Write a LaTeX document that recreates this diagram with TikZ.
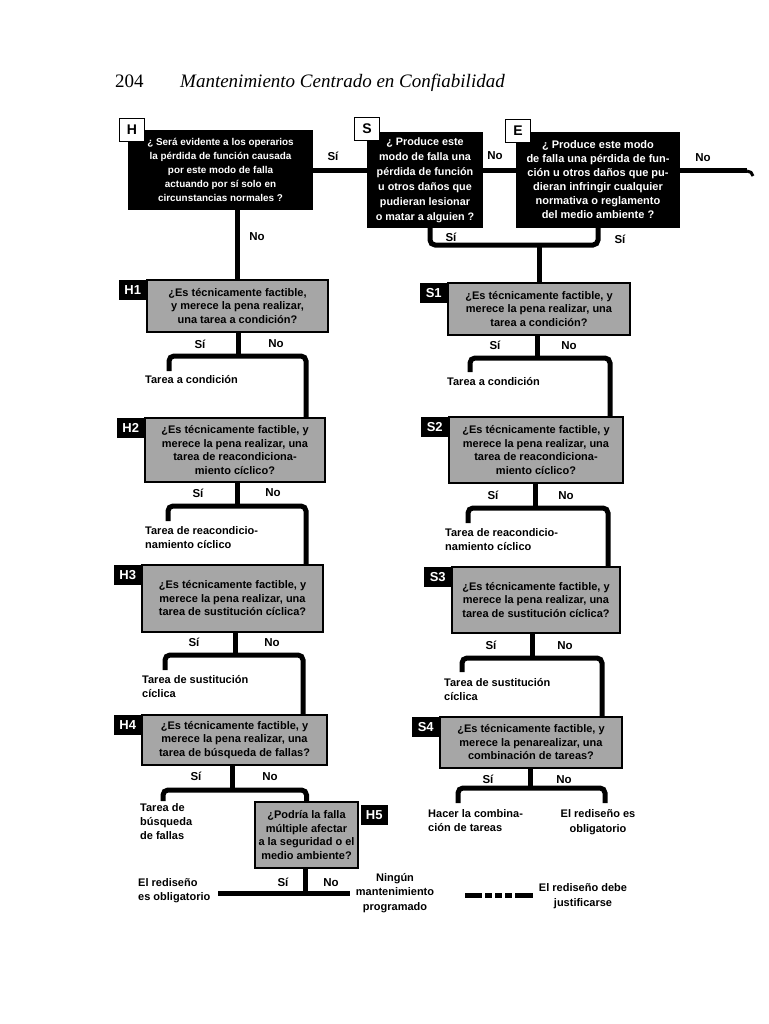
\documentclass[tikz,border=0pt]{standalone}
\usepackage{fontspec}
\setmainfont{Liberation Sans}
\newfontfamily\hdr{Liberation Serif}
\usetikzlibrary{calc}
\tikzset{
  conn/.style={line width=5pt, rounded corners=5pt},
  bar/.style={line width=5pt},
  bq/.style={fill=black, text=white, align=center, inner sep=0pt},
  gq/.style={fill=black!35, draw=black, line width=1.2pt, align=center, inner sep=0pt,
             font=\fontsize{11}{13.5}\selectfont\bfseries},
  wlab/.style={fill=white, draw=black, line width=1.6pt, inner sep=0pt,
               font=\fontsize{14}{14}\selectfont\bfseries, minimum width=25pt, minimum height=23pt},
  blab/.style={fill=black, text=white, inner sep=0pt,
               font=\fontsize{13}{13}\selectfont\bfseries, minimum width=27pt, minimum height=20pt},
  ans/.style={font=\fontsize{11.5}{11.5}\selectfont\bfseries, inner sep=0pt},
  res/.style={font=\fontsize{11}{14}\selectfont\bfseries, align=left, inner sep=0pt, anchor=west},
  resc/.style={font=\fontsize{11}{14.5}\selectfont\bfseries, align=center, inner sep=0pt}
}
\begin{document}
\begin{tikzpicture}[x=1pt,y=-1pt]
\useasboundingbox[fill=white] (0,0) rectangle (768,1024);

% header
\node[font=\hdr\fontsize{19}{19}\selectfont, anchor=base west, inner sep=0pt] (pg) at (115,88) {204};
\node[font=\hdr\itshape\fontsize{19}{19}\selectfont, anchor=base west, inner sep=0pt] (tit) at (180,88) {Mantenimiento Centrado en Confiabilidad};

% ---------- coordinates ----------
\coordinate (rowy) at (0,171);
\coordinate (offE) at (747,171);
\coordinate (offH) at (753,176);
\coordinate (sej) at (538,245);

% ---------- top questions ----------
\node[bq, font=\fontsize{9.9}{14}\selectfont\bfseries, minimum width=185pt, minimum height=80pt] (H) at (220.5,170)
 {¿ Será evidente a los operarios\\la pérdida de función causada\\por este modo de falla\\actuando por sí solo en\\circunstancias normales ?};
\node[bq, font=\fontsize{10.8}{15}\selectfont\bfseries, minimum width=116pt, minimum height=96pt] (S) at (425,180)
 {¿ Produce este\\modo de falla una\\pérdida de función\\u otros daños que\\pudieran lesionar\\o matar a alguien ?};
\node[bq, font=\fontsize{11}{14}\selectfont\bfseries, minimum width=164pt, minimum height=96pt] (E) at (598,180)
 {¿ Produce este modo\\de falla una pérdida de fun-\\ción u otros daños que pu-\\dieran infringir cualquier\\normativa o reglamento\\del medio ambiente ?};

% ---------- gray questions ----------
\node[gq, minimum width=181pt, minimum height=52pt] (H1) at (237.5,306)
 {¿Es técnicamente factible,\\y merece la pena realizar,\\una tarea a condición?};
\node[gq, minimum width=180pt, minimum height=64pt] (H2) at (235,450)
 {¿Es técnicamente factible, y\\merece la pena realizar, una\\tarea de reacondiciona-\\miento cíclico?};
\node[gq, minimum width=181pt, minimum height=67pt] (H3) at (232.5,598.5)
 {¿Es técnicamente factible, y\\merece la pena realizar, una\\tarea de sustitución cíclica?};
\node[gq, minimum width=185pt, minimum height=50pt] (H4) at (234.5,740)
 {¿Es técnicamente factible, y\\merece la pena realizar, una\\tarea de búsqueda de fallas?};
\node[gq, minimum width=103pt, minimum height=66pt] (H5) at (306.5,835)
 {¿Podría la falla\\múltiple afectar\\a la seguridad o el\\medio ambiente?};

\node[gq, minimum width=182pt, minimum height=52pt] (S1) at (539,309)
 {¿Es técnicamente factible, y\\merece la pena realizar, una\\tarea a condición?};
\node[gq, minimum width=174pt, minimum height=66pt] (S2) at (536,450)
 {¿Es técnicamente factible, y\\merece la pena realizar, una\\tarea de reacondiciona-\\miento cíclico?};
\node[gq, minimum width=168pt, minimum height=66pt] (S3) at (536,600)
 {¿Es técnicamente factible, y\\merece la pena realizar, una\\tarea de sustitución cíclica?};
\node[gq, minimum width=182pt, minimum height=51pt] (S4) at (531,742.5)
 {¿Es técnicamente factible, y\\merece la penarealizar, una\\combinación de tareas?};

% ---------- top connectors ----------
\draw[bar] (H.east |- rowy) -- (S.west |- rowy);
\draw[bar] (S.east |- rowy) -- (E.west |- rowy);
\draw[bar] (E.east |- rowy) -- (offE);
\draw[line width=3pt] (offE) to[out=0,in=100] (offH);
\draw[conn] ([xshift=5pt]S.south) |- (sej) -| (E.south);
\draw[bar] (sej) -- (S1.north |- sej) -- (S1.north);
\draw[bar] (H1.north |- H.south) -- (H1.north);

% ---------- left branches ----------
\coordinate (h1j) at (238,356); \coordinate (h1y) at (169,371); \coordinate (h1n) at (306,356);
\draw[bar] (h1j |- H1.south) -- (h1j);
\draw[conn] (h1y) |- (h1n) -- (h1n |- H2.north);

\coordinate (h2j) at (237,506); \coordinate (h2y) at (168,521); \coordinate (h2n) at (306,506);
\draw[bar] (h2j |- H2.south) -- (h2j);
\draw[conn] (h2y) |- (h2n) -- (h2n |- H3.north);

\coordinate (h3j) at (235,655); \coordinate (h3y) at (165,670); \coordinate (h3n) at (303,655);
\draw[bar] (h3j |- H3.south) -- (h3j);
\draw[conn] (h3y) |- (h3n) -- (h3n |- H4.north);

\coordinate (h4j) at (232,790); \coordinate (h4y) at (163,801);
\draw[bar] (h4j |- H4.south) -- (h4j);
\draw[conn] (h4y) |- (H5.north |- h4j) -- (H5.north);

\coordinate (h5j) at (305,893); \coordinate (h5l) at (218,893); \coordinate (h5r) at (350,893);
\draw[bar] (h5j |- H5.south) -- (h5j);
\draw[bar] (h5l) -- (h5r);

% ---------- right branches ----------
\coordinate (s1j) at (537,358); \coordinate (s1y) at (470,372); \coordinate (s1n) at (610,358);
\draw[bar] (s1j |- S1.south) -- (s1j);
\draw[conn] (s1y) |- (s1n) -- (s1n |- S2.north);

\coordinate (s2j) at (535,508); \coordinate (s2y) at (468,523); \coordinate (s2n) at (608,508);
\draw[bar] (s2j |- S2.south) -- (s2j);
\draw[conn] (s2y) |- (s2n) -- (s2n |- S3.north);

\coordinate (s3j) at (532,658); \coordinate (s3y) at (462,672); \coordinate (s3n) at (602,658);
\draw[bar] (s3j |- S3.south) -- (s3j);
\draw[conn] (s3y) |- (s3n) -- (s3n |- S4.north);

\coordinate (s4j) at (530,788); \coordinate (s4y) at (458,803); \coordinate (s4n) at (605,803);
\draw[bar] (s4j |- S4.south) -- (s4j);
\draw[conn] (s4y) |- (s4j) -| (s4n);

% ---------- letter labels ----------
\node[wlab] (Hl) at (132,130) {H};
\node[wlab] (Sl) at (367,129) {S};
\node[wlab] (El) at (518,131) {E};
\node[blab, anchor=north east] (H1l) at (H1.north west) {H1};
\node[blab, anchor=north east] (H2l) at (H2.north west) {H2};
\node[blab, anchor=north east] (H3l) at (H3.north west) {H3};
\node[blab, anchor=north east] (H4l) at (H4.north west) {H4};
\node[blab, anchor=north west] (H5l) at ([xshift=2pt,yshift=-3pt]H5.north east) {H5};
\node[blab, anchor=north east] (S1l) at (S1.north west) {S1};
\node[blab, anchor=north east] (S2l) at (S2.north west) {S2};
\node[blab, anchor=north east] (S3l) at (S3.north west) {S3};
\node[blab, anchor=north east] (S4l) at (S4.north west) {S4};

% ---------- answers ----------
\node[ans] (a1) at (333,156) {Sí};
\node[ans] (a2) at (495,156) {No};
\node[ans] (a3) at (703,158) {No};
\node[ans] (a4) at (451,237) {Sí};
\node[ans] (a5) at (620,239) {Sí};
\node[ans] (a6) at (257,237) {No};

\node[ans] (b1) at (200,344) {Sí};   \node[ans] (b2) at (276,344) {No};
\node[ans] (b3) at (198,493) {Sí};   \node[ans] (b4) at (273,493) {No};
\node[ans] (b5) at (194,642) {Sí};   \node[ans] (b6) at (272,643) {No};
\node[ans] (b7) at (196,776) {Sí};   \node[ans] (b8) at (270,777) {No};
\node[ans] (b9) at (283,882) {Sí};   \node[ans] (b10) at (331,883) {No};

\node[ans] (c1) at (495,345) {Sí};   \node[ans] (c2) at (569,346) {No};
\node[ans] (c3) at (493,495) {Sí};   \node[ans] (c4) at (566,496) {No};
\node[ans] (c5) at (491,645) {Sí};   \node[ans] (c6) at (565,646) {No};
\node[ans] (c7) at (488,779) {Sí};   \node[ans] (c8) at (564,780) {No};

% ---------- results ----------
\node[res] (r1) at (145,380) {Tarea a condición};
\node[res] (r2) at (145,538) {Tarea de reacondicio-\\namiento cíclico};
\node[res] (r3) at (142,687) {Tarea de sustitución\\cíclica};
\node[res] (r4) at (140,822) {Tarea de\\búsqueda\\de fallas};
\node[res] (r5) at (138,891) {El rediseño\\es obligatorio};
\node[resc] (r6) at (395,893) {Ningún\\mantenimiento\\programado};

\node[res] (q1) at (447,382) {Tarea a condición};
\node[res] (q2) at (445,540) {Tarea de reacondicio-\\namiento cíclico};
\node[res] (q3) at (444,690) {Tarea de sustitución\\cíclica};
\node[res] (q4) at (428,821) {Hacer la combina-\\ción de tareas};
\node[resc] (q5) at (598,822) {El rediseño es\\obligatorio};
\node[resc] (q6) at (583,896) {El rediseño debe\\justificarse};

\coordinate (dl) at (465,895); \coordinate (dr) at (533,895);
\draw[line width=5pt, dash pattern=on 17pt off 3pt on 7pt off 3pt on 7pt off 3pt on 7pt off 3pt on 18pt] (dl) -- (dr);
\end{tikzpicture}
\end{document}
